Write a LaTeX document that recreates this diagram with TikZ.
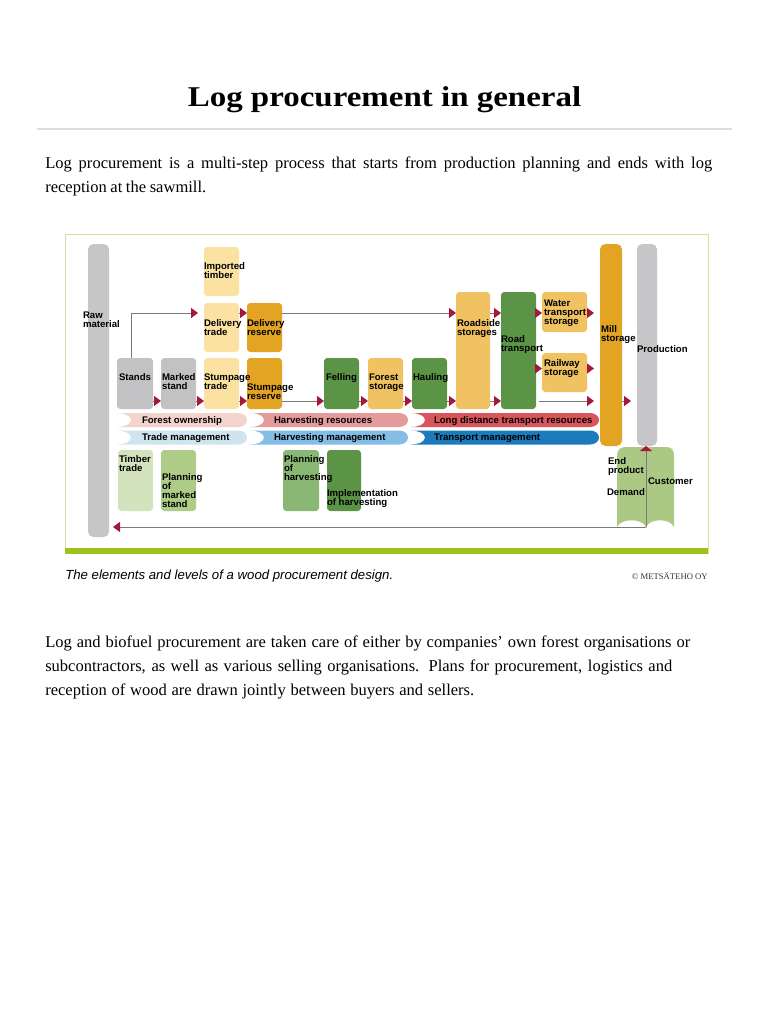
\documentclass[tikz,border=0pt]{standalone}
\usepackage{fontspec}
\usepackage{graphicx}
\setmainfont{Liberation Serif}
\newfontfamily\dsans{Liberation Sans}
\usetikzlibrary{arrows.meta}
\definecolor{cgray}{HTML}{C6C6C8}
\definecolor{cgraytwo}{HTML}{C2C2C4}
\definecolor{cpale}{HTML}{FBE2A3}
\definecolor{corange}{HTML}{E3A424}
\definecolor{cgold}{HTML}{F0C262}
\definecolor{cgreen}{HTML}{5B9446}
\definecolor{charv}{HTML}{8AB874}
\definecolor{cpalegreen}{HTML}{D3E3BD}
\definecolor{cmidgreen}{HTML}{AECC88}
\definecolor{cbook}{HTML}{ABC985}
\definecolor{bandA}{HTML}{F3D3CC}
\definecolor{bandB}{HTML}{E59B9B}
\definecolor{bandC}{HTML}{D9555B}
\definecolor{bandD}{HTML}{CFE4EE}
\definecolor{bandE}{HTML}{84BDE6}
\definecolor{bandF}{HTML}{1B7BBD}
\definecolor{arrred}{HTML}{A3193A}
\definecolor{linegray}{HTML}{7A7A7A}
\definecolor{framec}{HTML}{D5E29E}
\definecolor{greenbar}{HTML}{9FC31A}
\definecolor{rulegray}{HTML}{DDDDDD}
\newcommand\boxat[7][2.5pt]{\node[box,rounded corners=#1,fill=#7,minimum width={(#5-#3)*0.75pt},minimum height={(#6-#4)*0.75pt}] (#2) at (#3,#4) {};}
\newcommand\stk[1]{\vtop{\lineskiplimit=-20pt\baselineskip=6.75pt\halign{##\hfil\cr#1\crcr}}}
\newcommand\band[5]{%
  \fill[#5] (#1,#3) -- ({#2-9},#3) .. controls ({#2-4},#3) and (#2,{(#3+#4)/2-4}) .. (#2,{(#3+#4)/2})
    .. controls (#2,{(#3+#4)/2+4}) and ({#2-4},#4) .. ({#2-9},#4) -- (#1,#4)
    .. controls ({#1+8},#4) and ({#1+14},{(#3+#4)/2+4}) .. ({#1+14},{(#3+#4)/2})
    .. controls ({#1+14},{(#3+#4)/2-4}) and ({#1+8},#3) .. (#1,#3) -- cycle;}
\newcommand\bline[2]{\makebox[#1][s]{#2}}
\begin{document}
\begin{tikzpicture}[x=0.75pt,y=-0.75pt,
  box/.style={inner sep=0pt,outer sep=0pt,draw=none,anchor=north west},
  lbl/.style={font=\dsans\bfseries\fontsize{7.2}{6.75}\selectfont,anchor=base west,inner sep=0pt,outer sep=0pt},
  conn/.style={draw=linegray,line width=0.75pt,-{Triangle[length=5.25pt,width=7.5pt,color=arrred]}},
  body/.style={font=\fontsize{12.4}{18}\selectfont,anchor=base west,inner sep=0pt}]
\useasboundingbox[fill=white] (0,0) rectangle (768,1024);

% title and rule
\node[anchor=base,inner sep=0pt] (title) at (384.5,107) {\scalebox{1.15}[1]{\fontsize{21.5}{26}\selectfont\bfseries Log procurement in general}};
\draw[draw=rulegray,line width=1.2pt] (37,129) -- (732,129);

\node[body] (p1a) at (45,168) {\bline{500.25pt}{Log procurement is a multi-step process that starts from production planning and ends with log}};
\node[body] (p1b) at (45,192) {\bline{120.75pt}{reception at the sawmill.}};

% frame
\draw[framec,line width=0.75pt] (65,234) rectangle (708,553);
\fill[greenbar] (65,548) rectangle (708,554);

% boxes
\boxat[4pt]{raw}{88}{244}{109}{537}{cgray}
\boxat{imp}{204}{247}{239}{296}{cpale}
\boxat{deltrade}{204}{303}{239}{352}{cpale}
\boxat{stumptrade}{204}{358}{239}{409}{cpale}
\boxat{delres}{247}{303}{282}{352}{corange}
\boxat{stumpres}{247}{358}{282}{409}{corange}
\boxat{stands}{117}{358}{153}{409}{cgraytwo}
\boxat{marked}{161}{358}{196}{409}{cgraytwo}
\boxat{felling}{324}{358}{359}{409}{cgreen}
\boxat{forest}{368}{358}{403}{409}{cgold}
\boxat{hauling}{412}{358}{447}{409}{cgreen}
\boxat{roadside}{456}{292}{490}{409}{cgold}
\boxat{road}{501}{292}{536}{409}{cgreen}
\boxat{water}{542}{292}{587}{332}{cgold}
\boxat{rail}{542}{353}{587}{392}{cgold}
\boxat[4pt]{mill}{600}{244}{622}{446}{corange}
\boxat[4pt]{prod}{637}{244}{657}{446}{cgray}
\boxat{timber}{118}{450}{153}{511}{cpalegreen}
\boxat{planmark}{161}{450}{196}{511}{cmidgreen}
\boxat{planharv}{283}{450}{319}{511}{charv}
\boxat{impl}{327}{450}{361}{511}{cgreen}

% book (end product / customer)
\fill[cbook] (646,447) -- (626,447) .. controls (620,447) and (617,450) .. (617,456) -- (617,527)
  .. controls (621,518) and (642,518) .. (646,527) -- cycle;
\fill[cbook] (646,447) -- (666,447) .. controls (672,447) and (674,450) .. (674,456) -- (674,527)
  .. controls (670,518) and (650,518) .. (646,527) -- cycle;

% bands
\band{117}{247}{413}{427}{bandA}
\band{250}{408}{413}{427}{bandB}
\band{411}{599}{413}{427}{bandC}
\band{117}{247}{430.5}{444.5}{bandD}
\band{250}{408}{430.5}{444.5}{bandE}
\band{411}{599}{430.5}{444.5}{bandF}

% lanes
\coordinate (lane1) at (0,313);
\coordinate (lane2) at (0,401);
\coordinate (lane3) at (0,368.5);
\coordinate (spine) at (646,527);

% connectors
\draw[conn,shorten >=4.5pt] ([xshift=-3pt]stands.north) |- (deltrade.west |- lane1);
\draw[conn] (deltrade.east |- lane1) -- (delres.west |- lane1);
\draw[conn] (delres.east |- lane1) -- (roadside.west |- lane1);
\draw[conn] (roadside.east |- lane1) -- (road.west |- lane1);
\draw[conn] (road.east |- lane1) -- (water.west |- lane1);
\draw[conn,shorten >=4.5pt] (water.east |- lane1) -- (mill.west |- lane1);
\draw[conn] (road.east |- lane3) -- (rail.west |- lane3);
\draw[conn,shorten >=4.5pt] (rail.east |- lane3) -- (mill.west |- lane3);
\draw[conn] (stands.east |- lane2) -- (marked.west |- lane2);
\draw[conn] (marked.east |- lane2) -- (stumptrade.west |- lane2);
\draw[conn] (stumptrade.east |- lane2) -- (stumpres.west |- lane2);
\draw[conn] (stumpres.east |- lane2) -- (felling.west |- lane2);
\draw[conn] (felling.east |- lane2) -- (forest.west |- lane2);
\draw[conn] (forest.east |- lane2) -- (hauling.west |- lane2);
\draw[conn] (hauling.east |- lane2) -- (roadside.west |- lane2);
\draw[conn] (roadside.east |- lane2) -- (road.west |- lane2);
\draw[conn,shorten >=4.5pt] ([xshift=2pt]road.east |- lane2) -- (mill.west |- lane2);
\draw[conn,shorten >=4.5pt] (mill.east |- lane2) -- (prod.west |- lane2);
\draw[draw=linegray,line width=0.75pt,-{Triangle[length=3.75pt,width=9pt,color=arrred]}] (spine) -- (spine |- prod.south);
\draw[conn,shorten >=3pt] (spine) -- (raw.east |- spine);

% labels
\node[lbl] (t-raw) at (83,318) {\stk{Raw\cr material}};
\node[lbl] (t-imp) at (204,269) {\stk{Imported\cr timber}};
\node[lbl] (t-deltrade) at (204,326) {\stk{Delivery\cr trade}};
\node[lbl] (t-delres) at (247,326) {\stk{Delivery\cr reserve}};
\node[lbl] (t-stands) at (119,380) {Stands};
\node[lbl] (t-marked) at (162,380) {\stk{Marked\cr stand}};
\node[lbl] (t-stumptrade) at (204,380) {\stk{Stumpage\cr trade}};
\node[lbl] (t-stumpres) at (247,390) {\stk{Stumpage\cr reserve}};
\node[lbl] (t-felling) at (326,380) {Felling};
\node[lbl] (t-forest) at (369,380) {\stk{Forest\cr storage}};
\node[lbl] (t-hauling) at (413,380) {Hauling};
\node[lbl] (t-roadside) at (457,326) {\stk{Roadside\cr storages}};
\node[lbl] (t-road) at (501,342) {\stk{Road\cr transport}};
\node[lbl] (t-water) at (544,306) {\stk{Water\cr transport\cr storage}};
\node[lbl] (t-rail) at (544,366) {\stk{Railway\cr storage}};
\node[lbl] (t-mill) at (601,332) {\stk{Mill\cr storage}};
\node[lbl] (t-prod) at (637,352) {Production};
\node[lbl] (t-timber) at (119,462) {\stk{Timber\cr trade}};
\node[lbl] (t-planmark) at (162,480) {\stk{Planning\cr of\cr marked\cr stand}};
\node[lbl] (t-planharv) at (284,462) {\stk{Planning\cr of\cr harvesting}};
\node[lbl] (t-impl) at (327,496) {\stk{Implementation\cr of harvesting}};
\node[lbl] (t-end) at (608,464) {\stk{End\cr product}};
\node[lbl] (t-demand) at (607,495) {Demand};
\node[lbl] (t-cust) at (648,484) {Customer};
\node[lbl] (b-own) at (142,423) {Forest ownership};
\node[lbl] (b-trade) at (142,440) {Trade management};
\node[lbl] (b-hres) at (274,423) {Harvesting resources};
\node[lbl] (b-hman) at (274,440) {Harvesting management};
\node[lbl] (b-lres) at (434,423) {Long distance transport resources};
\node[lbl] (b-tman) at (434,440) {Transport management};

% caption
\node[anchor=base west,inner sep=0pt] (cap) at (65,579) {\dsans\itshape\fontsize{9.9}{11}\selectfont The elements and levels of a wood procurement design.};
\node[anchor=base east,inner sep=0pt,text=black!80] (copy) at (708,579) {\fontsize{6.5}{7}\selectfont © METSÄTEHO OY};

\node[body] (p2a) at (45,647) {\bline{483.75pt}{Log and biofuel procurement are taken care of either by companies' own forest organisations or}};
\node[body] (p2b) at (45,671) {\bline{470.25pt}{subcontractors, as well as various selling organisations. Plans for procurement, logistics and}};
\node[body] (p2c) at (45,695) {\bline{321.75pt}{reception of wood are drawn jointly between buyers and sellers.}};
\end{tikzpicture}
\end{document}
